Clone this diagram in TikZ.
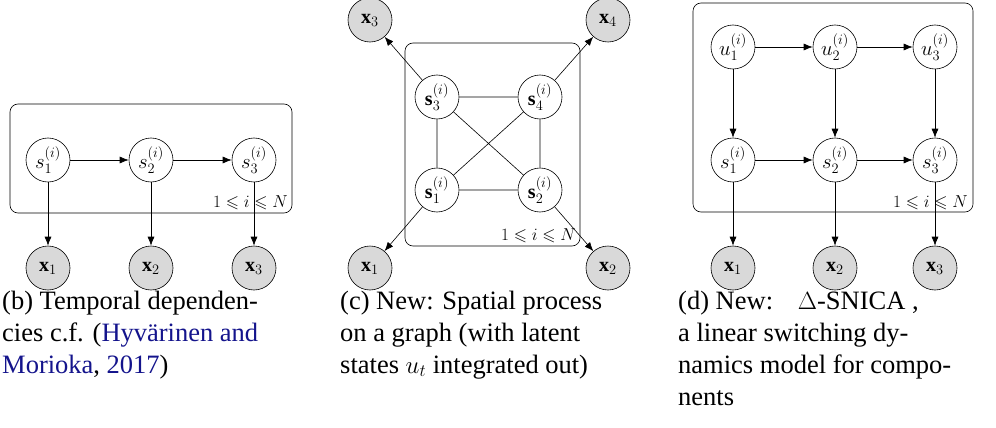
\documentclass[tikz,border=0pt]{standalone}
\usepackage{amssymb}
\usepackage{fontspec}
\setmainfont{Liberation Serif}
\usetikzlibrary{arrows.meta}
\definecolor{linkblue}{RGB}{20,20,140}
\begin{document}
\begin{tikzpicture}[x=1pt,y=-1pt,
  lat/.style={circle,draw,line width=0.6pt,minimum size=44pt,inner sep=0pt,font=\fontsize{20}{20}\selectfont},
  obs/.style={lat,fill=black!15},
  arr/.style={-{Latex[length=9pt,width=7pt]},line width=0.6pt},
  ln/.style={line width=0.6pt},
  plate/.style={draw,rounded corners=8pt,line width=0.6pt},
  captxt/.style={anchor=base west,inner sep=0pt,font=\fontsize{26.5}{30}\selectfont},
  pl/.style={font=\fontsize{17}{17}\selectfont,anchor=base east,inner sep=0pt}]
\useasboundingbox (0,0) rectangle (996,428);
% panel b
\draw[plate] (10,104) rectangle (292,213);
\node[lat] (b1) at (48,160) {$s_1^{(i)}$};
\node[lat] (b2) at (151,160) {$s_2^{(i)}$};
\node[lat] (b3) at (254,160) {$s_3^{(i)}$};
\node[obs] (bx1) at (48,268) {$\mathbf{x}_1$};
\node[obs] (bx2) at (151,268) {$\mathbf{x}_2$};
\node[obs] (bx3) at (254,268) {$\mathbf{x}_3$};
\draw[arr] (b1)--(b2); \draw[arr] (b2)--(b3);
\draw[arr] (b1)--(bx1); \draw[arr] (b2)--(bx2); \draw[arr] (b3)--(bx3);
\node[pl] (bl) at (288,207) {$1\leqslant i\leqslant N$};
% panel c
\draw[plate] (405,43) rectangle (580,246);
\node[lat] (c3) at (437,97) {$\mathbf{s}_3^{(i)}$};
\node[lat] (c4) at (540,97) {$\mathbf{s}_4^{(i)}$};
\node[lat] (c1) at (437,190) {$\mathbf{s}_1^{(i)}$};
\node[lat] (c2) at (540,190) {$\mathbf{s}_2^{(i)}$};
\node[obs] (cx3) at (370,20) {$\mathbf{x}_3$};
\node[obs] (cx4) at (608,20) {$\mathbf{x}_4$};
\node[obs] (cx1) at (370,268) {$\mathbf{x}_1$};
\node[obs] (cx2) at (608,268) {$\mathbf{x}_2$};
\draw[ln] (c3)--(c4) (c1)--(c2) (c3)--(c1) (c4)--(c2) (c3)--(c2) (c4)--(c1);
\draw[arr] (c3)--(cx3); \draw[arr] (c4)--(cx4); \draw[arr] (c1)--(cx1); \draw[arr] (c2)--(cx2);
\node[pl] (cl) at (576,240) {$1\leqslant i\leqslant N$};
% panel d
\draw[plate] (693,3) rectangle (973,212);
\node[lat] (u1) at (733,47) {$u_1^{(i)}$};
\node[lat] (u2) at (835,47) {$u_2^{(i)}$};
\node[lat] (u3) at (935,47) {$u_3^{(i)}$};
\node[lat] (d1) at (733,160) {$s_1^{(i)}$};
\node[lat] (d2) at (835,160) {$s_2^{(i)}$};
\node[lat] (d3) at (935,160) {$s_3^{(i)}$};
\node[obs] (dx1) at (733,268) {$\mathbf{x}_1$};
\node[obs] (dx2) at (835,268) {$\mathbf{x}_2$};
\node[obs] (dx3) at (935,268) {$\mathbf{x}_3$};
\draw[arr] (u1)--(u2); \draw[arr] (u2)--(u3);
\draw[arr] (d1)--(d2); \draw[arr] (d2)--(d3);
\draw[arr] (u1)--(d1); \draw[arr] (u2)--(d2); \draw[arr] (u3)--(d3);
\draw[arr] (d1)--(dx1); \draw[arr] (d2)--(dx2); \draw[arr] (d3)--(dx3);
\node[pl] (dl) at (968,207) {$1\leqslant i\leqslant N$};
% captions
\node[captxt] (t1) at (2,309) {(b) Temporal dependen-};
\node[captxt] (t2) at (2,341) {cies c.f. (\textcolor{linkblue}{Hyvärinen and}};
\node[captxt] (t3) at (2,373) {\textcolor{linkblue}{Morioka}, \textcolor{linkblue}{2017})};
\node[captxt] (t4) at (340,309) {(c) New: Spatial process};
\node[captxt] (t5) at (340,341) {on a graph (with latent};
\node[captxt] (t6) at (340,373) {states $u_t$ integrated out)};
\node[captxt] (t7) at (678,309) {(d) New:\hspace{16pt} $\Delta$-SNICA ,};
\node[captxt] (t8) at (678,341) {a linear switching dy-};
\node[captxt] (t9) at (678,373) {namics model for compo-};
\node[captxt] (t10) at (678,405) {nents};
\end{tikzpicture}
\end{document}
